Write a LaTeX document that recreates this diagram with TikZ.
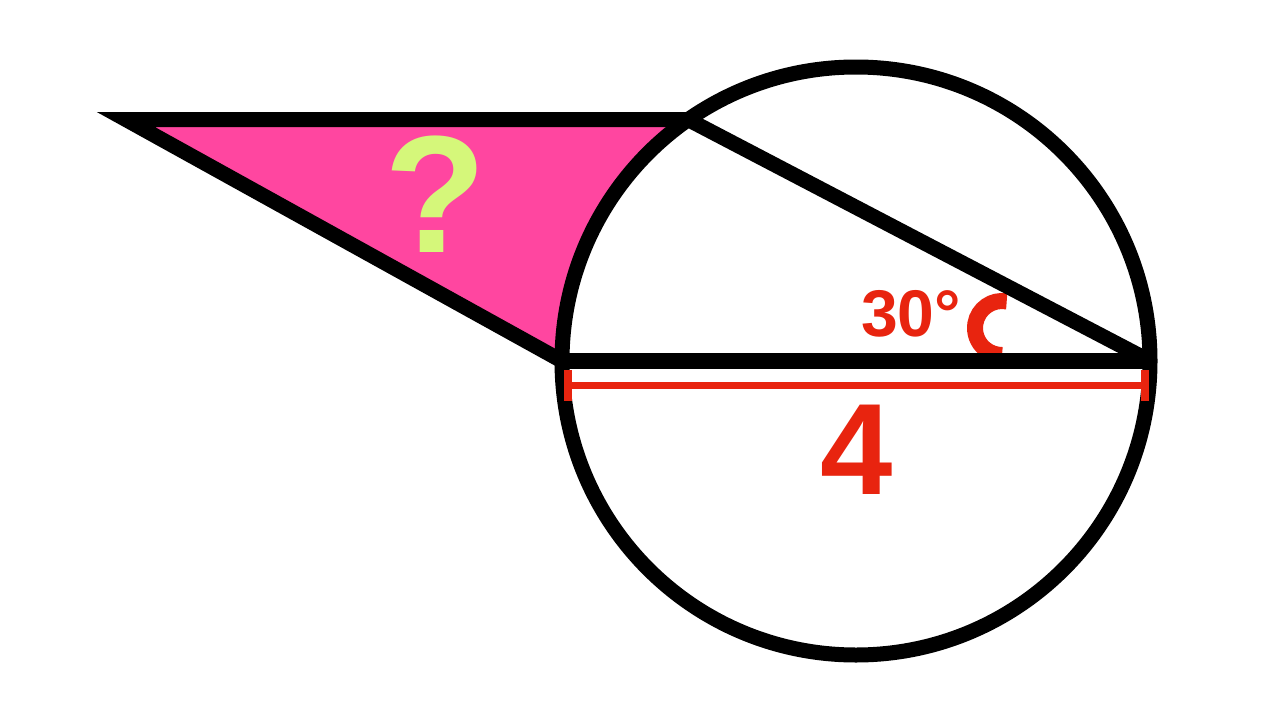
\documentclass[tikz,border=0pt]{standalone}
\usepackage{fontspec}
\setmainfont{Liberation Sans}
\usetikzlibrary{calc}
\definecolor{pinkc}{HTML}{FF46A0}
\definecolor{greenc}{HTML}{D5F77A}
\definecolor{redc}{HTML}{E8240F}
\tikzset{
  blackline/.style={draw=black, line width=15pt, line join=miter, line cap=butt},
  redline/.style={draw=redc, line width=6.5pt},
  redtick/.style={draw=redc, line width=8pt},
  lbl/.style={inner sep=0pt, font=\bfseries}
}
\begin{document}
\begin{tikzpicture}[x=1pt,y=-1pt]
\useasboundingbox[fill=white] (0,0) rectangle (1280,720);
% key points
\coordinate (O) at (856,361);
\coordinate (A) at (562,361);
\coordinate (B) at (1150,361);
\coordinate (P) at (688.2,119.6);
\coordinate (V) at (126,119.6);
\coordinate (C) at (1002,328);
\coordinate (DL) at (568,385.5);
\coordinate (DR) at (1145,385.5);
% pink region
\fill[pinkc] (V) -- (P) arc[start angle=-124.8, end angle=-180, radius=294] -- cycle;
% angle mark
\draw[draw=redc, line width=16pt] ($(C)+(-80:27)$) arc[start angle=-80, end angle=-270, radius=27];
% triangle sides
\path[blackline] (A) -- (V) -- (P);
% circle
\draw[blackline] (O) circle[radius=294];
% diameter and chord
\draw[blackline, line width=16pt] (A) -- (B);
\draw[blackline] (P) -- (B);
% dimension
\draw[redline] (DL) -- (DR);
\draw[redtick] ($(DL)+(0,-15.5)$) -- ($(DL)+(0,15.5)$);
\draw[redtick] ($(DR)+(0,-15.5)$) -- ($(DR)+(0,15.5)$);
% labels
\node[lbl, text=greenc, font=\bfseries\fontsize{167}{167}\selectfont] (q) at (436,194) {?};
\node[lbl, text=redc, font=\bfseries\fontsize{130}{130}\selectfont] (four) at (857,450) {4};
\node[lbl, text=redc, font=\bfseries\fontsize{66}{66}\selectfont] (ang) at (911,314) {30°};
\end{tikzpicture}
\end{document}
